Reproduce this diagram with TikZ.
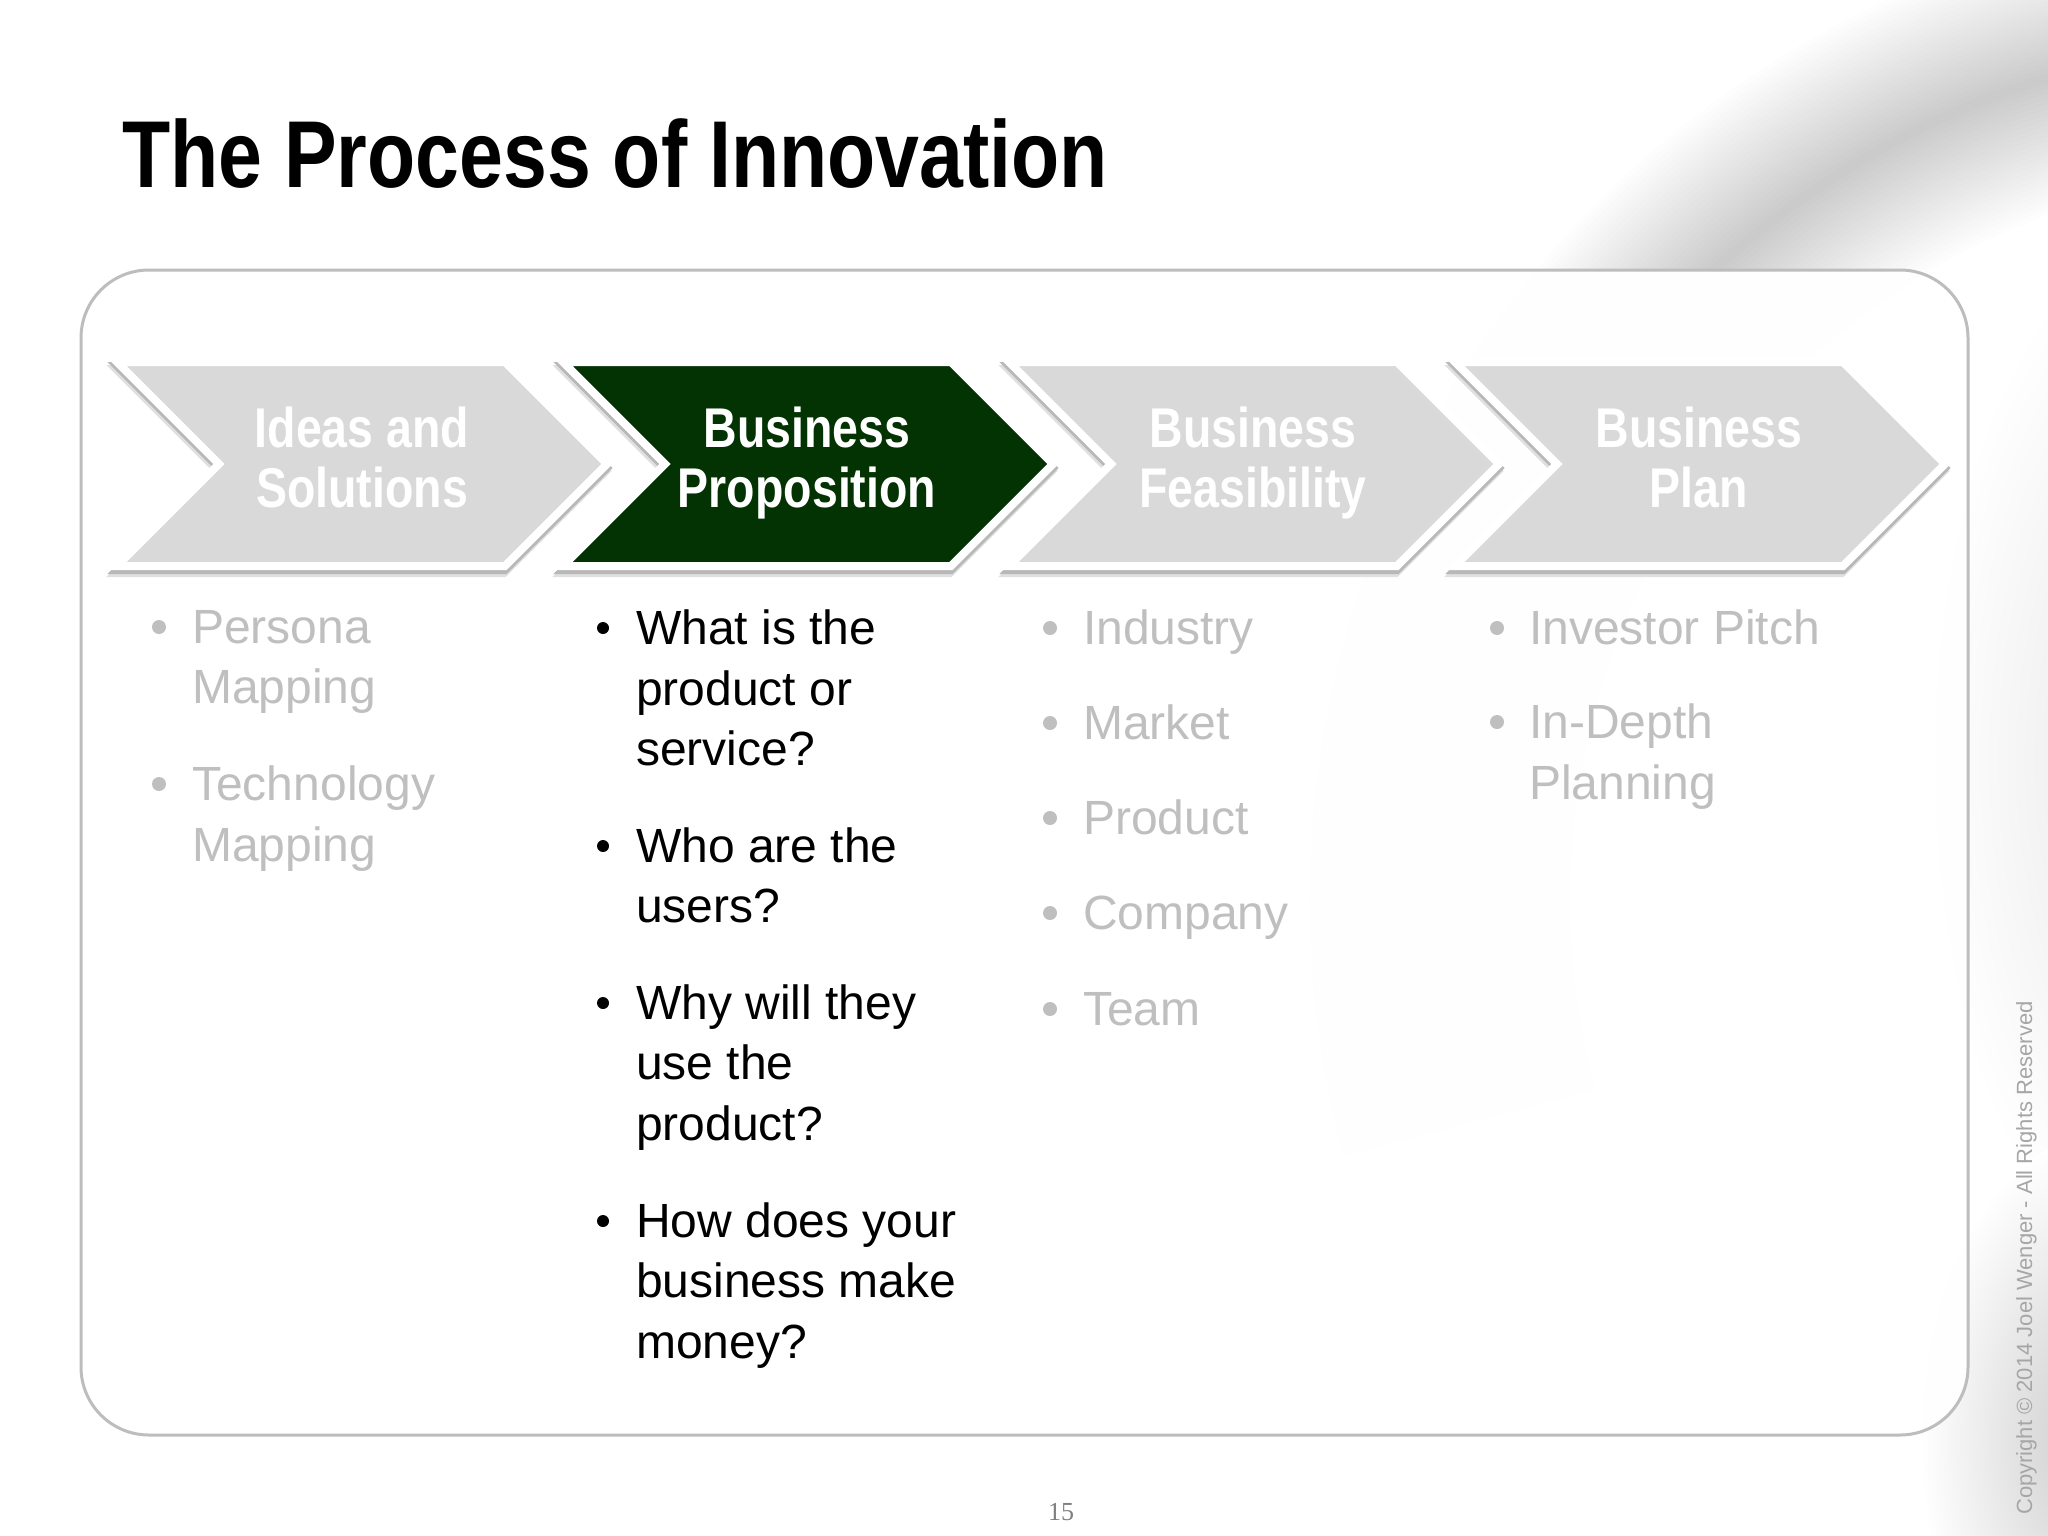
\documentclass[tikz,border=0pt]{standalone}
\usepackage{fontspec}
\setmainfont{Liberation Sans}
\newfontfamily\condfont[FakeStretch=0.83]{Liberation Sans}
\newfontfamily\seriffont{Liberation Serif}
\definecolor{chevgray}{HTML}{D9D9D9}
\definecolor{chevgreen}{HTML}{033303}
\definecolor{bulgray}{HTML}{BFBFBF}
\definecolor{boxline}{HTML}{BDBDBD}
\definecolor{copygray}{HTML}{A6A6A6}
\definecolor{pagegray}{HTML}{7F7F7F}
\begin{document}
\begin{tikzpicture}[x=1pt,y=-1pt,
  btxt/.style={anchor=base west, inner sep=0, font=\fontsize{48}{58}\selectfont},
  gtxt/.style={btxt, text=bulgray},
  ktxt/.style={btxt, text=black},
  gdot/.style={circle, fill=bulgray, inner sep=0, minimum size=14},
  kdot/.style={circle, fill=black, inner sep=0, minimum size=12},
  labtxt/.style={anchor=base, inner sep=0, text=white, font=\condfont\bfseries\fontsize{56}{60}\selectfont},
  chevshape/.style={draw=white, line width=8, line join=miter},
  shadowA/.style={draw=black!12, fill=black!12, line width=8, line join=miter},
  shadowB/.style={draw=black!28, fill=black!28, line width=8, line join=miter}
]
\useasboundingbox (0,0) rectangle (2048,1536);
\fill[white] (0,0) rectangle (2048,1536);

% faint blurred watermark in the background
\begin{scope}
\clip (0,0) rectangle (2048,1536);
\shade[inner color=black!10, outer color=white] (2160,760) ellipse (230 and 520);
\shade[inner color=black!20, outer color=white] (2090,1440) ellipse (170 and 300);
\foreach \k in {1,...,26}
  \draw[line width=10*\k, black, opacity=0.008] (3108,606) arc[start angle=-20, end angle=-195, radius=860];
\end{scope}

% rounded frame
\draw[boxline, line width=3, fill=white, fill opacity=0.985, rounded corners=68] (81,270) rectangle (1968,1435);

% title
\node[anchor=base west, inner sep=0, font=\condfont\bfseries\fontsize{95}{100}\selectfont] (title) at (122,187) {The Process of Innovation};

% chevrons
\foreach \i/\c in {0/chevgray,1/chevgreen,2/chevgray,3/chevgray}{
  \pgfmathsetmacro\L{117+446*\i}
  \path[shadowA] (\L-1,369) -- ++(388,0) -- ++(102,102) -- ++(-102,102) -- ++(-388,0) -- ++(102,-102) -- cycle;
  \path[shadowB] (\L,366) -- ++(388,0) -- ++(102,102) -- ++(-102,102) -- ++(-388,0) -- ++(102,-102) -- cycle;
  \path[chevshape, fill=\c] (\L,362) -- ++(388,0) -- ++(102,102) -- ++(-102,102) -- ++(-388,0) -- ++(102,-102) -- cycle;
}

% chevron labels
\node[labtxt] (l1a) at (362,447) {Ideas and};
\node[labtxt] (l1b) at (362,507) {Solutions};
\node[labtxt] (l2a) at (807,447) {Business};
\node[labtxt] (l2b) at (807,507) {Proposition};
\node[labtxt] (l3a) at (1253,447) {Business};
\node[labtxt] (l3b) at (1253,507) {Feasibility};
\node[labtxt] (l4a) at (1699,447) {Business};
\node[labtxt] (l4b) at (1699,507) {Plan};

% column 1
\node[gdot] (d11) at (159,627) {};
\node[gtxt] (t11a) at (192,643) {Persona};
\node[gtxt] (t11b) at (192,703) {Mapping};
\node[gdot] (d12) at (159,784) {};
\node[gtxt] (t12a) at (192,800) {Technology};
\node[gtxt] (t12b) at (192,861) {Mapping};

% column 2
\node[kdot] (d21) at (603,628) {};
\node[ktxt] (t21a) at (636,644) {What is the};
\node[ktxt] (t21b) at (636,705) {product or};
\node[ktxt] (t21c) at (636,765) {service?};
\node[kdot] (d22) at (603,846) {};
\node[ktxt] (t22a) at (636,862) {Who are the};
\node[ktxt] (t22b) at (636,922) {users?};
\node[kdot] (d23) at (603,1003) {};
\node[ktxt] (t23a) at (636,1019) {Why will they};
\node[ktxt] (t23b) at (636,1079) {use the};
\node[ktxt] (t23c) at (636,1140) {product?};
\node[kdot] (d24) at (603,1221) {};
\node[ktxt] (t24a) at (636,1237) {How does your};
\node[ktxt] (t24b) at (636,1297) {business make};
\node[ktxt] (t24c) at (636,1358) {money?};

% column 3
\node[gdot] (d31) at (1050,628) {};
\node[gtxt] (t31) at (1083,644) {Industry};
\node[gdot] (d32) at (1050,723) {};
\node[gtxt] (t32) at (1083,739) {Market};
\node[gdot] (d33) at (1050,818) {};
\node[gtxt] (t33) at (1083,834) {Product};
\node[gdot] (d34) at (1050,913) {};
\node[gtxt] (t34) at (1083,929) {Company};
\node[gdot] (d35) at (1050,1009) {};
\node[gtxt] (t35) at (1083,1025) {Team};

% column 4
\node[gdot] (d41) at (1497,628) {};
\node[gtxt] (t41) at (1529,644) {Investor Pitch};
\node[gdot] (d42) at (1497,722) {};
\node[gtxt] (t42a) at (1529,738) {In-Depth};
\node[gtxt] (t42b) at (1529,799) {Planning};

% page number and copyright
\node[anchor=base, inner sep=0, text=pagegray, font=\seriffont\fontsize{26}{28}\selectfont] (pnum) at (1061,1520) {15};
\node[anchor=base west, rotate=90, inner sep=0, text=copygray, font=\fontsize{22}{24}\selectfont] (copy) at (2032,1515) {Copyright © 2014 Joel Wenger - All Rights Reserved};
\end{tikzpicture}
\end{document}
